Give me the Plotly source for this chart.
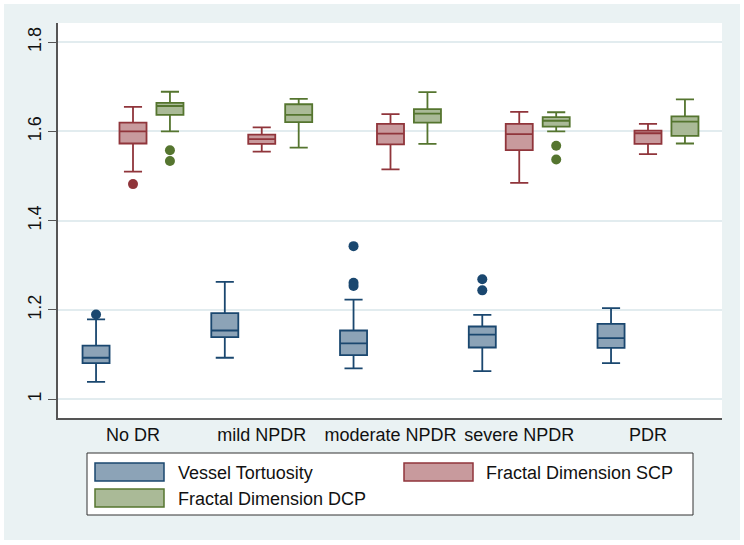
import plotly.graph_objects as go

# ---------------- data ----------------
categories = ["No DR", "mild NPDR", "moderate NPDR", "severe NPDR", "PDR"]
series_names = ["Vessel Tortuosity", "Fractal Dimension SCP", "Fractal Dimension DCP"]

# Vessel Tortuosity
vt_lower = [1.039, 1.093, 1.069, 1.063, 1.081]
vt_q1 = [1.081, 1.139, 1.099, 1.116, 1.115]
vt_median = [1.093, 1.154, 1.125, 1.145, 1.137]
vt_q3 = [1.120, 1.193, 1.154, 1.163, 1.169]
vt_upper = [1.179, 1.263, 1.223, 1.189, 1.204]
vt_outliers = [[1.190], [], [1.343, 1.261, 1.254], [1.269, 1.244], []]

# Fractal Dimension SCP
scp_lower = [1.510, 1.555, 1.515, 1.485, 1.549]
scp_q1 = [1.573, 1.572, 1.571, 1.558, 1.572]
scp_median = [1.600, 1.583, 1.595, 1.594, 1.596]
scp_q3 = [1.620, 1.593, 1.617, 1.617, 1.602]
scp_upper = [1.655, 1.609, 1.639, 1.644, 1.617]
scp_outliers = [[1.482], [], [], [], []]

# Fractal Dimension DCP
dcp_lower = [1.600, 1.564, 1.572, 1.600, 1.573]
dcp_q1 = [1.637, 1.621, 1.620, 1.611, 1.590]
dcp_median = [1.657, 1.637, 1.640, 1.624, 1.622]
dcp_q3 = [1.664, 1.661, 1.650, 1.632, 1.634]
dcp_upper = [1.689, 1.673, 1.688, 1.643, 1.672]
dcp_outliers = [[1.558, 1.534], [], [], [1.568, 1.537], []]

y_ticks = [1, 1.2, 1.4, 1.6, 1.8]
y_ticklabels = ["1", "1.2", "1.4", "1.6", "1.8"]

# ---------------- styling ----------------
FONT = "Liberation Sans, Arial, Helvetica, sans-serif"
FS = 18
BG = "#eaf2f3"
line_cols = ["#1a476f", "#90353b", "#55752f"]
fill_cols = ["#8ca3b7", "#c89a9d", "#aaba97"]

W, H = 744, 545
PL, PR, PT, PB = 58, 722, 23, 418  # plot area pixel box


def px(x):
    return (x - PL) / (PR - PL)


def py(y):
    return (PB - y) / (PB - PT)


offsets = [-0.287, 0.0, 0.287]
box_w = 0.21

series = [
    (vt_lower, vt_q1, vt_median, vt_q3, vt_upper, vt_outliers),
    (scp_lower, scp_q1, scp_median, scp_q3, scp_upper, scp_outliers),
    (dcp_lower, dcp_q1, dcp_median, dcp_q3, dcp_upper, dcp_outliers),
]

fig = go.Figure()
base = list(range(len(categories)))
for s, (lo, q1, med, q3, up, outs) in enumerate(series):
    xs = [b + offsets[s] for b in base]
    fig.add_trace(go.Box(
        x=xs, q1=q1, median=med, q3=q3, lowerfence=lo, upperfence=up,
        name=series_names[s], width=box_w, whiskerwidth=0.67,
        fillcolor=fill_cols[s], line=dict(color=line_cols[s], width=1.8),
        boxpoints=False, showlegend=False, hoverinfo="skip",
    ))
    ox, oy = [], []
    for i, vals in enumerate(outs):
        for v in vals:
            ox.append(xs[i])
            oy.append(v)
    fig.add_trace(go.Scatter(
        x=ox, y=oy, mode="markers", showlegend=False,
        marker=dict(color=line_cols[s], size=10, line=dict(width=0)),
    ))

shapes = [
    # outer graph region
    dict(type="rect", xref="paper", yref="paper", layer="below",
         x0=px(4), x1=px(740), y0=py(540), y1=py(4),
         fillcolor=BG, line=dict(width=0)),
    # plot region
    dict(type="rect", xref="paper", yref="paper", layer="below",
         x0=0, x1=1, y0=0, y1=1, fillcolor="white", line=dict(width=0)),
    # legend frame
    dict(type="rect", xref="paper", yref="paper",
         x0=px(87), x1=px(693), y0=py(515), y1=py(453),
         fillcolor="white", line=dict(color="#333333", width=1)),
]
annotations = []
legend_items = [
    (0, 95, 463, 176),
    (1, 404, 463, 484),
    (2, 95, 489, 176),
]
for s, lx, ly, tx in legend_items:
    shapes.append(dict(type="rect", xref="paper", yref="paper",
                       x0=px(lx), x1=px(lx + 69), y0=py(ly + 18), y1=py(ly),
                       fillcolor=fill_cols[s],
                       line=dict(color=line_cols[s], width=1.5)))
    annotations.append(dict(xref="paper", yref="paper", x=px(tx), y=py(ly + 9.5),
                            xanchor="left", yanchor="middle", showarrow=False,
                            text=series_names[s],
                            font=dict(family=FONT, size=FS, color="#111111")))

fig.update_layout(
    width=W, height=H,
    margin=dict(l=PL, r=W - PR, t=PT, b=H - PB),
    paper_bgcolor="white", plot_bgcolor="white",
    boxmode="overlay",
    shapes=shapes, annotations=annotations,
    font=dict(family=FONT, size=FS, color="#111111"),
    xaxis=dict(
        range=[-0.5825, 4.5748], tickmode="array", tickvals=base,
        ticktext=categories, showgrid=False, zeroline=False,
        showline=True, linecolor="#555555", linewidth=1.5,
        ticks="", tickfont=dict(family=FONT, size=FS, color="#111111"),
    ),
    yaxis=dict(
        range=[0.958, 1.843], tickmode="array", tickvals=y_ticks,
        ticktext=y_ticklabels, tickangle=-90,
        showgrid=True, gridcolor="#e2ecef", gridwidth=1.5, zeroline=False,
        showline=True, linecolor="#555555", linewidth=1.5,
        ticks="outside", ticklen=8, tickcolor="#555555", tickwidth=1.2,
        tickfont=dict(family=FONT, size=FS, color="#111111"),
    ),
)

fig.write_html(
    "out.html",
    config={"displayModeBar": False},
    post_script="document.body.style.margin='0';document.body.style.padding='0';",
)
